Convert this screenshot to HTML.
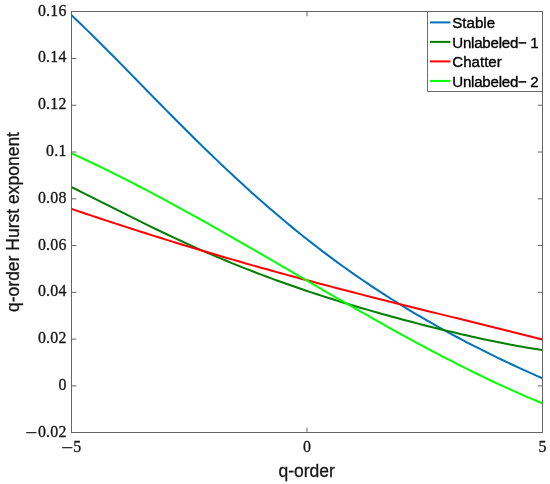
<!DOCTYPE html>
<html><head><meta charset="utf-8"><title>q-order Hurst exponent</title>
<style>html,body{margin:0;padding:0;background:#fff}svg{display:block}</style></head>
<body>
<svg width="550" height="484" viewBox="0 0 550 484">
<rect width="550" height="484" fill="#fff"/>
<g stroke="#666666" stroke-width="1" fill="none">
<rect x="71.5" y="11.5" width="471.0" height="421.0"/>
<path d="M71.5,58.48h4.8M542.5,58.48h-4.8"/>
<path d="M71.5,105.26h4.8M542.5,105.26h-4.8"/>
<path d="M71.5,152.03h4.8M542.5,152.03h-4.8"/>
<path d="M71.5,198.81h4.8M542.5,198.81h-4.8"/>
<path d="M71.5,245.59h4.8M542.5,245.59h-4.8"/>
<path d="M71.5,292.37h4.8M542.5,292.37h-4.8"/>
<path d="M71.5,339.14h4.8M542.5,339.14h-4.8"/>
<path d="M71.5,385.92h4.8M542.5,385.92h-4.8"/>
<path d="M307.00,432.5v-4.8M307.00,11.5v4.8"/>
</g>
<clipPath id="c"><rect x="72.0" y="12.0" width="470.0" height="420.0"/></clipPath>
<g clip-path="url(#c)" fill="none" stroke-linejoin="round">
<path d="M71.50,15.21 L76.51,19.95 L81.52,24.75 L86.53,29.61 L91.54,34.51 L96.55,39.45 L101.56,44.44 L106.57,49.45 L111.59,54.49 L116.60,59.56 L121.61,64.64 L126.62,69.74 L131.63,74.85 L136.64,79.97 L141.65,85.09 L146.66,90.21 L151.67,95.33 L156.68,100.43 L161.69,105.53 L166.70,110.61 L171.71,115.68 L176.72,120.73 L181.73,125.75 L186.74,130.75 L191.76,135.73 L196.77,140.68 L201.78,145.59 L206.79,150.47 L211.80,155.32 L216.81,160.13 L221.82,164.91 L226.83,169.64 L231.84,174.34 L236.85,178.99 L241.86,183.60 L246.87,188.16 L251.88,192.68 L256.89,197.15 L261.90,201.58 L266.91,205.96 L271.93,210.29 L276.94,214.57 L281.95,218.80 L286.96,222.99 L291.97,227.12 L296.98,231.21 L301.99,235.24 L307.00,239.22 L312.01,243.16 L317.02,247.04 L322.03,250.88 L327.04,254.66 L332.05,258.40 L337.06,262.09 L342.07,265.72 L347.09,269.31 L352.10,272.85 L357.11,276.35 L362.12,279.80 L367.13,283.20 L372.14,286.55 L377.15,289.86 L382.16,293.13 L387.17,296.35 L392.18,299.53 L397.19,302.66 L402.20,305.76 L407.21,308.81 L412.22,311.82 L417.23,314.80 L422.24,317.73 L427.26,320.63 L432.27,323.49 L437.28,326.31 L442.29,329.10 L447.30,331.85 L452.31,334.57 L457.32,337.25 L462.33,339.90 L467.34,342.52 L472.35,345.11 L477.36,347.67 L482.37,350.19 L487.38,352.69 L492.39,355.16 L497.40,357.60 L502.41,360.01 L507.43,362.39 L512.44,364.75 L517.45,367.07 L522.46,369.38 L527.47,371.65 L532.48,373.90 L537.49,376.12 L542.50,378.32" stroke="#0072BD" stroke-width="2.0"/>
<path d="M71.50,187.03 L76.51,189.52 L81.52,192.03 L86.53,194.54 L91.54,197.06 L96.55,199.59 L101.56,202.12 L106.57,204.65 L111.59,207.17 L116.60,209.69 L121.61,212.21 L126.62,214.71 L131.63,217.21 L136.64,219.69 L141.65,222.16 L146.66,224.62 L151.67,227.06 L156.68,229.48 L161.69,231.88 L166.70,234.26 L171.71,236.62 L176.72,238.96 L181.73,241.27 L186.74,243.56 L191.76,245.83 L196.77,248.07 L201.78,250.29 L206.79,252.49 L211.80,254.65 L216.81,256.80 L221.82,258.91 L226.83,261.00 L231.84,263.06 L236.85,265.10 L241.86,267.11 L246.87,269.09 L251.88,271.05 L256.89,272.98 L261.90,274.89 L266.91,276.77 L271.93,278.63 L276.94,280.46 L281.95,282.26 L286.96,284.04 L291.97,285.80 L296.98,287.54 L301.99,289.25 L307.00,290.94 L312.01,292.61 L317.02,294.25 L322.03,295.88 L327.04,297.48 L332.05,299.07 L337.06,300.64 L342.07,302.18 L347.09,303.71 L352.10,305.22 L357.11,306.71 L362.12,308.19 L367.13,309.64 L372.14,311.09 L377.15,312.51 L382.16,313.92 L387.17,315.32 L392.18,316.69 L397.19,318.06 L402.20,319.41 L407.21,320.74 L412.22,322.06 L417.23,323.37 L422.24,324.66 L427.26,325.93 L432.27,327.20 L437.28,328.44 L442.29,329.67 L447.30,330.89 L452.31,332.09 L457.32,333.27 L462.33,334.44 L467.34,335.59 L472.35,336.72 L477.36,337.83 L482.37,338.92 L487.38,339.99 L492.39,341.04 L497.40,342.07 L502.41,343.07 L507.43,344.05 L512.44,345.00 L517.45,345.92 L522.46,346.81 L527.47,347.67 L532.48,348.49 L537.49,349.28 L542.50,350.03" stroke="#007F00" stroke-width="2.0"/>
<path d="M71.50,208.88 L76.51,210.58 L81.52,212.27 L86.53,213.95 L91.54,215.63 L96.55,217.30 L101.56,218.96 L106.57,220.61 L111.59,222.26 L116.60,223.90 L121.61,225.53 L126.62,227.16 L131.63,228.77 L136.64,230.38 L141.65,231.98 L146.66,233.57 L151.67,235.15 L156.68,236.73 L161.69,238.29 L166.70,239.85 L171.71,241.40 L176.72,242.95 L181.73,244.48 L186.74,246.01 L191.76,247.52 L196.77,249.03 L201.78,250.54 L206.79,252.03 L211.80,253.51 L216.81,254.99 L221.82,256.46 L226.83,257.92 L231.84,259.37 L236.85,260.82 L241.86,262.25 L246.87,263.68 L251.88,265.11 L256.89,266.52 L261.90,267.93 L266.91,269.32 L271.93,270.72 L276.94,272.10 L281.95,273.48 L286.96,274.85 L291.97,276.21 L296.98,277.57 L301.99,278.91 L307.00,280.26 L312.01,281.59 L317.02,282.92 L322.03,284.25 L327.04,285.56 L332.05,286.88 L337.06,288.18 L342.07,289.48 L347.09,290.78 L352.10,292.07 L357.11,293.35 L362.12,294.63 L367.13,295.91 L372.14,297.18 L377.15,298.45 L382.16,299.71 L387.17,300.97 L392.18,302.22 L397.19,303.48 L402.20,304.72 L407.21,305.97 L412.22,307.21 L417.23,308.45 L422.24,309.69 L427.26,310.93 L432.27,312.17 L437.28,313.40 L442.29,314.63 L447.30,315.86 L452.31,317.10 L457.32,318.33 L462.33,319.56 L467.34,320.79 L472.35,322.02 L477.36,323.26 L482.37,324.49 L487.38,325.73 L492.39,326.97 L497.40,328.21 L502.41,329.45 L507.43,330.70 L512.44,331.95 L517.45,333.20 L522.46,334.46 L527.47,335.72 L532.48,336.98 L537.49,338.26 L542.50,339.53" stroke="#FF0000" stroke-width="2.0"/>
<path d="M71.50,153.31 L76.51,155.60 L81.52,157.91 L86.53,160.25 L91.54,162.61 L96.55,165.00 L101.56,167.42 L106.57,169.86 L111.59,172.33 L116.60,174.82 L121.61,177.33 L126.62,179.87 L131.63,182.42 L136.64,185.00 L141.65,187.60 L146.66,190.22 L151.67,192.86 L156.68,195.51 L161.69,198.19 L166.70,200.88 L171.71,203.59 L176.72,206.31 L181.73,209.05 L186.74,211.80 L191.76,214.57 L196.77,217.35 L201.78,220.15 L206.79,222.96 L211.80,225.77 L216.81,228.60 L221.82,231.44 L226.83,234.29 L231.84,237.15 L236.85,240.01 L241.86,242.89 L246.87,245.77 L251.88,248.66 L256.89,251.55 L261.90,254.45 L266.91,257.35 L271.93,260.25 L276.94,263.16 L281.95,266.07 L286.96,268.98 L291.97,271.90 L296.98,274.81 L301.99,277.72 L307.00,280.64 L312.01,283.55 L317.02,286.45 L322.03,289.36 L327.04,292.26 L332.05,295.15 L337.06,298.05 L342.07,300.93 L347.09,303.81 L352.10,306.68 L357.11,309.54 L362.12,312.40 L367.13,315.24 L372.14,318.08 L377.15,320.90 L382.16,323.71 L387.17,326.51 L392.18,329.30 L397.19,332.08 L402.20,334.84 L407.21,337.58 L412.22,340.31 L417.23,343.02 L422.24,345.72 L427.26,348.39 L432.27,351.05 L437.28,353.69 L442.29,356.31 L447.30,358.91 L452.31,361.48 L457.32,364.04 L462.33,366.57 L467.34,369.08 L472.35,371.56 L477.36,374.02 L482.37,376.45 L487.38,378.86 L492.39,381.23 L497.40,383.58 L502.41,385.90 L507.43,388.19 L512.44,390.46 L517.45,392.69 L522.46,394.88 L527.47,397.05 L532.48,399.18 L537.49,401.28 L542.50,403.34" stroke="#00FF00" stroke-width="2.0"/>
</g>
<g font-family="'Liberation Serif', serif" font-size="15.9" letter-spacing="0.25" fill="#151515" stroke="#151515" stroke-width="0.3">
<text x="66.70" y="15.65" text-anchor="end">0.16</text>
<text x="66.70" y="62.43" text-anchor="end">0.14</text>
<text x="66.70" y="109.21" text-anchor="end">0.12</text>
<text x="66.70" y="155.98" text-anchor="end">0.1</text>
<text x="66.70" y="202.76" text-anchor="end">0.08</text>
<text x="66.70" y="249.54" text-anchor="end">0.06</text>
<text x="66.70" y="296.32" text-anchor="end">0.04</text>
<text x="66.70" y="343.09" text-anchor="end">0.02</text>
<text x="66.70" y="389.87" text-anchor="end">0</text>
<text x="66.70" y="436.65" text-anchor="end">0.02</text>
<text transform="translate(37.20,437.55) scale(1.3,1)" text-anchor="end" letter-spacing="0">−</text>
<text x="307.20" y="451.6" text-anchor="middle">0</text>
<text x="542.70" y="451.6" text-anchor="middle">5</text>
<text x="77.3" y="451.6" text-anchor="middle">5</text>
<text transform="translate(73.20,452.50) scale(1.3,1)" text-anchor="end" letter-spacing="0">−</text>
</g>
<g font-family="'Liberation Sans', sans-serif" font-size="17.5" fill="#151515" stroke="#151515" stroke-width="0.3">
<text x="306.7" y="476.5" text-anchor="middle">q-order</text>
<text transform="translate(19.1,222.0) rotate(-90)" text-anchor="middle">q-order Hurst exponent</text>
</g>
<rect x="428.0" y="12.0" width="114.0" height="79.0" fill="#fff"/>
<path d="M427.5,11.5V91.5H542.5" fill="none" stroke="#6c6c6c" stroke-width="1"/>
<g font-family="'Liberation Sans', sans-serif" font-size="15.1" fill="#000" stroke="#000" stroke-width="0.35">
<path d="M430,22.4H450.4" stroke="#0072BD" stroke-width="2.0"/>
<text x="452.3" y="28.20">Stable</text>
<path d="M430,41.9H450.4" stroke="#007F00" stroke-width="2.0"/>
<text x="452.3" y="47.70"><tspan letter-spacing="-0.25">Unlabeled</tspan>−<tspan dx="-0.8"> 1</tspan></text>
<path d="M430,61.4H450.4" stroke="#FF0000" stroke-width="2.0"/>
<text x="452.3" y="67.20">Chatter</text>
<path d="M430,80.9H450.4" stroke="#00FF00" stroke-width="2.0"/>
<text x="452.3" y="86.70"><tspan letter-spacing="-0.25">Unlabeled</tspan>−<tspan dx="-0.8"> 2</tspan></text>
</g>
</svg>
</body></html>
